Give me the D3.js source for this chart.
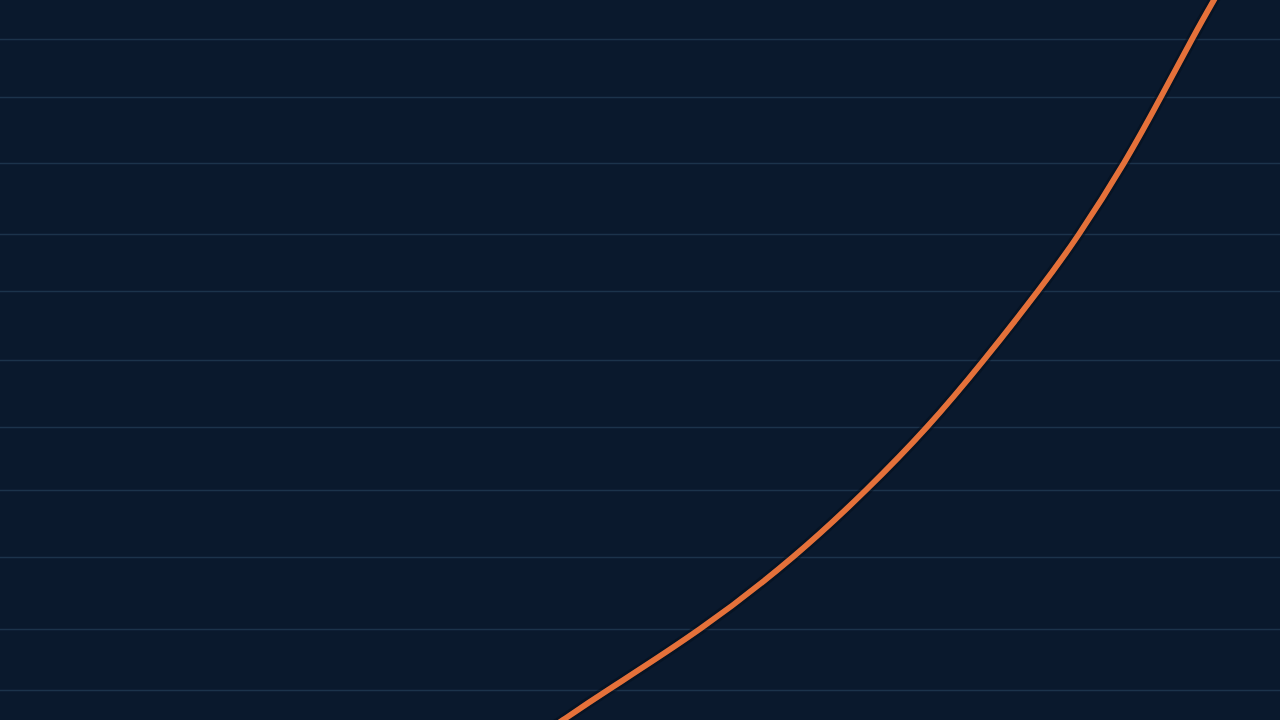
<!DOCTYPE html>
<html>
<head>
<meta charset="utf-8">
<script src="https://cdn.jsdelivr.net/npm/d3@7"></script>
<style>
  html, body { margin: 0; padding: 0; background: #0a192d; overflow: hidden; }
  svg { display: block; }
</style>
</head>
<body>
<svg id="chart" width="1280" height="720"></svg>
<script>
// Data (units: x 0-100 across, y 0-100 up)
const gridValues = [4.17, 12.64, 22.64, 31.94, 40.69, 50.0, 59.58, 67.5, 77.36, 86.53, 94.58];
const curveX = [42.19, 43.98, 47.5, 54.69, 61.95, 67.66, 72.42, 76.8, 81.09, 84.3, 87.81, 90.7, 93.13, 94.84, 95.78];
const curveY = [-2.1, 0.0, 4.17, 12.64, 22.64, 31.94, 40.69, 49.86, 59.58, 67.5, 77.36, 86.53, 94.58, 100.0, 102.9];

const W = 1280, H = 720;
const svg = d3.select("#chart");

svg.append("rect").attr("width", W).attr("height", H).attr("fill", "#0a192d");

const x = d3.scaleLinear().domain([0, 100]).range([0, W]);
const y = d3.scaleLinear().domain([0, 100]).range([H, 0]);

// gridlines via axis
const yAxis = d3.axisLeft(y).tickValues(gridValues).tickSize(-W).tickFormat("");
const g = svg.append("g").attr("class", "grid").call(yAxis);
g.select(".domain").remove();
g.selectAll(".tick line")
  .attr("stroke", "#1c334b")
  .attr("stroke-width", 1.6);

const pts = curveX.map((v, i) => ({ x: v, y: curveY[i] }));
const line = d3.line().x(d => x(d.x)).y(d => y(d.y)).curve(d3.curveNatural);

// soft dark shadow under line
svg.append("path")
  .datum(pts)
  .attr("d", line)
  .attr("fill", "none")
  .attr("stroke", "#050d18")
  .attr("stroke-opacity", 0.45)
  .attr("stroke-width", 11);

svg.append("path")
  .datum(pts)
  .attr("d", line)
  .attr("fill", "none")
  .attr("stroke", "#e5713a")
  .attr("stroke-width", 5.8)
  .attr("stroke-linecap", "round");
</script>
</body>
</html>
